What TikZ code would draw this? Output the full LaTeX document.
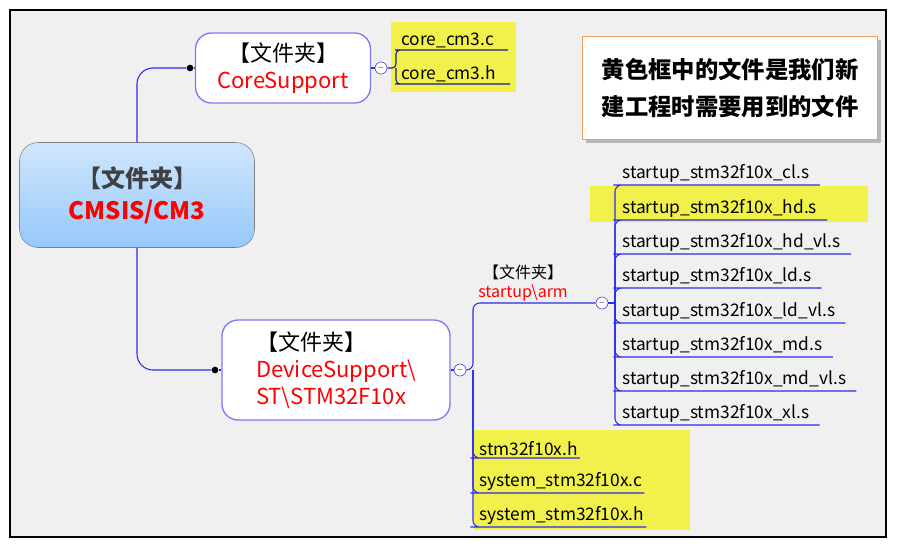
\documentclass[tikz,border=0pt]{standalone}
\usepackage{fontspec}
\setmainfont{Noto Sans CJK SC}
\usetikzlibrary{positioning,shadows}
\definecolor{colorBg}{HTML}{F0F0F0}
\definecolor{colorLine}{HTML}{2B2BF0}
\definecolor{colorBox}{HTML}{7B7BF5}
\definecolor{colorHl}{HTML}{F2F04A}
\definecolor{colorNote}{HTML}{F0A060}
\definecolor{colorRootT}{HTML}{CFE6FC}
\definecolor{colorRootB}{HTML}{96C8FA}
\begin{document}
\begin{tikzpicture}[x=0.75pt,y=-0.75pt,every node/.append style={align=center},
    topic/.style={draw=colorBox, line width=1pt, rounded corners=12pt, fill=white, text=red, font=\fontsize{16.5}{20}\selectfont},
    item/.style={anchor=south west, inner sep=1.5pt, font=\fontsize{13}{15}\selectfont},
    fold/.style={draw=colorLine, fill=white, circle, minimum size=9pt, inner sep=0pt, font=\tiny},
    dot/.style={fill=black, circle, minimum size=5pt, inner sep=0pt},
    branch/.style={draw=colorLine, line width=0.8pt, rounded corners=5pt},
    uline/.style={draw=colorLine!60!black, line width=0.8pt}]
    \useasboundingbox (0,0) rectangle (902,547);
    \draw[fill=colorBg, line width=1pt] (10,10) rectangle (886,537);
    % highlights
    \fill[colorHl] (391,22) rectangle (516,92);
    \fill[colorHl] (590,186) rectangle (868,222);
    \fill[colorHl] (474,430) rectangle (690,530);
    % main topics
    \node [draw=gray, rounded corners=14pt, top color=colorRootT, bottom color=colorRootB, minimum width=235pt*0.75, minimum height=105pt*0.75, font=\bfseries\fontsize{18}{24}\selectfont] (root) at (137,195) {\textcolor{black!75}{【文件夹】}\\\textcolor{red}{CMSIS/CM3}};
    \node [topic, minimum width=175pt*0.75, minimum height=70pt*0.75] (core) at (283,68) {\textcolor{black}{【文件夹】}\\CoreSupport};
    \node [topic, align=left, minimum width=228pt*0.75, minimum height=100pt*0.75] (dev) at (336,370) {\textcolor{black}{【文件夹】}\\DeviceSupport\textbackslash\\ST\textbackslash STM32F10x};
    \node [dot] (dc) at (190,68) {};
    \node [dot] (dd) at (215,370) {};
    \draw [branch, rounded corners=12pt] (root.north) |- (dc);
    \draw [branch, rounded corners=12pt] (root.south) |- (dd);
    \draw [colorLine, line width=0.8pt] (dc) -- (core.west) (dd) -- (dev.west);
    % CoreSupport files
    \node [fold] (fc) at (381,68) {$-$};
    \draw [colorLine, line width=0.8pt] (core.east) -- (fc);
    \coordinate (bc) at (396,68);
    \node [item] (c1) at (399,50) {core\_cm3.c};
    \node [item] (c2) at (399,84) {core\_cm3.h};
    \draw [uline, rounded corners=3pt] (fc.east) -- (bc) |- (c1.south west) -- (508,50);
    \draw [uline, rounded corners=3pt] (bc) |- (c2.south west) -- (510,84);
    % DeviceSupport files
    \node [fold] (fd) at (460,370) {$-$};
    \draw [colorLine, line width=0.8pt] (dev.east) -- (fd);
    \coordinate (bd) at (473,370);
    \node [item, font=\fontsize{12}{14}\selectfont, inner sep=0pt] (arm) at (478,301) {\textcolor{black}{【文件夹】}\\\textcolor{red}{startup\textbackslash arm}};
    \node [fold] (fa) at (602,303) {$-$};
    \draw [branch] (fd.east) -- (bd) |- (fa.west);
    \foreach \n/\t/\y in {1/stm32f10x.h/458,2/system\_stm32f10x.c/493,3/system\_stm32f10x.h/527} {
        \node [item] (d\n) at (477,\y) {\t};
        \draw [branch] (bd) |- (d\n.south west) -- (d\n.south east);
    }
    % startup files
    \coordinate (ba) at (615,303);
    \draw [colorLine, line width=0.8pt] (fa.east) -- (ba);
    \foreach \n/\t/\y in {1/cl/185,2/hd/220,3/hd\_vl/254,4/ld/288,5/ld\_vl/323,6/md/357,7/md\_vl/391,8/xl/425} {
        \node [item] (s\n) at (620,\y) {startup\_stm32f10x\_\t.s};
        \draw [branch] (ba) |- (s\n.south west) -- ([xshift=6pt]s\n.south east);
    }
    % note
    \node [draw=colorNote, line width=1.2pt, fill=white, drop shadow, minimum width=295pt*0.75, minimum height=103pt*0.75, font=\bfseries\fontsize{17.5}{28}\selectfont] (note) at (730,88) {黄色框中的文件是我们新\\建工程时需要用到的文件};
\end{tikzpicture}
\end{document}
